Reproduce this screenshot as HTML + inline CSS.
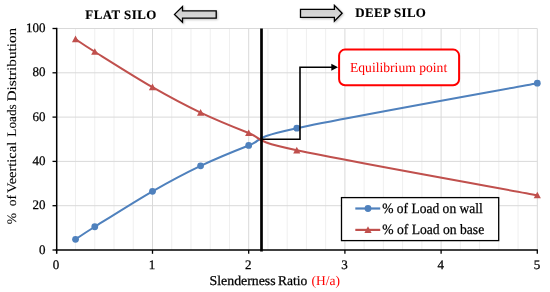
<!DOCTYPE html>
<html><head><meta charset="utf-8"><style>
html,body{margin:0;padding:0;background:#fff;}
svg{display:block;}
.t{font-family:"Liberation Serif","Times New Roman",serif;font-size:13.4px;fill:#000;text-rendering:geometricPrecision;stroke:#000;stroke-width:0.25px;}
</style></head><body>
<svg width="550" height="292" viewBox="0 0 550 292">
<rect width="550" height="292" fill="#fff"/>
<line x1="75.54" y1="28.5" x2="75.54" y2="250" stroke="#efefef" stroke-width="1"/>
<line x1="94.78" y1="28.5" x2="94.78" y2="250" stroke="#efefef" stroke-width="1"/>
<line x1="114.02" y1="28.5" x2="114.02" y2="250" stroke="#efefef" stroke-width="1"/>
<line x1="133.26" y1="28.5" x2="133.26" y2="250" stroke="#efefef" stroke-width="1"/>
<line x1="171.74" y1="28.5" x2="171.74" y2="250" stroke="#efefef" stroke-width="1"/>
<line x1="190.98" y1="28.5" x2="190.98" y2="250" stroke="#efefef" stroke-width="1"/>
<line x1="210.22" y1="28.5" x2="210.22" y2="250" stroke="#efefef" stroke-width="1"/>
<line x1="229.46" y1="28.5" x2="229.46" y2="250" stroke="#efefef" stroke-width="1"/>
<line x1="267.94" y1="28.5" x2="267.94" y2="250" stroke="#efefef" stroke-width="1"/>
<line x1="287.18" y1="28.5" x2="287.18" y2="250" stroke="#efefef" stroke-width="1"/>
<line x1="306.42" y1="28.5" x2="306.42" y2="250" stroke="#efefef" stroke-width="1"/>
<line x1="325.66" y1="28.5" x2="325.66" y2="250" stroke="#efefef" stroke-width="1"/>
<line x1="364.14" y1="28.5" x2="364.14" y2="250" stroke="#efefef" stroke-width="1"/>
<line x1="383.38" y1="28.5" x2="383.38" y2="250" stroke="#efefef" stroke-width="1"/>
<line x1="402.62" y1="28.5" x2="402.62" y2="250" stroke="#efefef" stroke-width="1"/>
<line x1="421.86" y1="28.5" x2="421.86" y2="250" stroke="#efefef" stroke-width="1"/>
<line x1="460.34" y1="28.5" x2="460.34" y2="250" stroke="#efefef" stroke-width="1"/>
<line x1="479.58" y1="28.5" x2="479.58" y2="250" stroke="#efefef" stroke-width="1"/>
<line x1="498.82" y1="28.5" x2="498.82" y2="250" stroke="#efefef" stroke-width="1"/>
<line x1="518.06" y1="28.5" x2="518.06" y2="250" stroke="#efefef" stroke-width="1"/>
<line x1="152.50" y1="28.5" x2="152.50" y2="250" stroke="#d9d9d9" stroke-width="1"/>
<line x1="248.70" y1="28.5" x2="248.70" y2="250" stroke="#d9d9d9" stroke-width="1"/>
<line x1="344.90" y1="28.5" x2="344.90" y2="250" stroke="#d9d9d9" stroke-width="1"/>
<line x1="441.10" y1="28.5" x2="441.10" y2="250" stroke="#d9d9d9" stroke-width="1"/>
<line x1="537.30" y1="28.5" x2="537.30" y2="250" stroke="#d9d9d9" stroke-width="1"/>
<line x1="57" y1="205.70" x2="537.30" y2="205.70" stroke="#d9d9d9" stroke-width="1"/>
<line x1="57" y1="161.40" x2="537.30" y2="161.40" stroke="#d9d9d9" stroke-width="1"/>
<line x1="57" y1="117.10" x2="537.30" y2="117.10" stroke="#d9d9d9" stroke-width="1"/>
<line x1="57" y1="72.80" x2="537.30" y2="72.80" stroke="#d9d9d9" stroke-width="1"/>
<line x1="57" y1="28.50" x2="537.30" y2="28.50" stroke="#d9d9d9" stroke-width="1"/>
<line x1="56.70" y1="27.8" x2="56.70" y2="253.8" stroke="#000" stroke-width="1.5"/>
<line x1="55.55" y1="250.0" x2="537.90" y2="250.0" stroke="#000" stroke-width="1.5"/>
<line x1="52.5" y1="250.00" x2="56.70" y2="250.00" stroke="#000" stroke-width="1.3"/>
<line x1="52.5" y1="205.70" x2="56.70" y2="205.70" stroke="#000" stroke-width="1.3"/>
<line x1="52.5" y1="161.40" x2="56.70" y2="161.40" stroke="#000" stroke-width="1.3"/>
<line x1="52.5" y1="117.10" x2="56.70" y2="117.10" stroke="#000" stroke-width="1.3"/>
<line x1="52.5" y1="72.80" x2="56.70" y2="72.80" stroke="#000" stroke-width="1.3"/>
<line x1="52.5" y1="28.50" x2="56.70" y2="28.50" stroke="#000" stroke-width="1.3"/>
<line x1="152.50" y1="250.0" x2="152.50" y2="253.8" stroke="#000" stroke-width="1.3"/>
<line x1="248.70" y1="250.0" x2="248.70" y2="253.8" stroke="#000" stroke-width="1.3"/>
<line x1="344.90" y1="250.0" x2="344.90" y2="253.8" stroke="#000" stroke-width="1.3"/>
<line x1="441.10" y1="250.0" x2="441.10" y2="253.8" stroke="#000" stroke-width="1.3"/>
<line x1="537.30" y1="250.0" x2="537.30" y2="253.8" stroke="#000" stroke-width="1.3"/>
<text transform="translate(45.4,253.50) scale(1.0,1)" text-anchor="end" class="t" style="font-size:13.0px">0</text>
<text transform="translate(45.4,209.20) scale(1.0,1)" text-anchor="end" class="t" style="font-size:13.0px">20</text>
<text transform="translate(45.4,164.90) scale(1.0,1)" text-anchor="end" class="t" style="font-size:13.0px">40</text>
<text transform="translate(45.4,120.60) scale(1.0,1)" text-anchor="end" class="t" style="font-size:13.0px">60</text>
<text transform="translate(45.4,76.30) scale(1.0,1)" text-anchor="end" class="t" style="font-size:13.0px">80</text>
<text transform="translate(45.4,32.00) scale(1.0,1)" text-anchor="end" class="t" style="font-size:13.0px">100</text>
<text transform="translate(55.90,268.9) scale(1.0,1)" text-anchor="middle" class="t" style="font-size:13.0px">0</text>
<text transform="translate(152.10,268.9) scale(1.0,1)" text-anchor="middle" class="t" style="font-size:13.0px">1</text>
<text transform="translate(248.30,268.9) scale(1.0,1)" text-anchor="middle" class="t" style="font-size:13.0px">2</text>
<text transform="translate(344.50,268.9) scale(1.0,1)" text-anchor="middle" class="t" style="font-size:13.0px">3</text>
<text transform="translate(440.70,268.9) scale(1.0,1)" text-anchor="middle" class="t" style="font-size:13.0px">4</text>
<text transform="translate(536.90,268.9) scale(1.0,1)" text-anchor="middle" class="t" style="font-size:13.0px">5</text>
<path d="M75.54,239.37 C78.75,237.26 81.95,234.75 94.78,226.74 C107.61,218.73 134.86,201.45 152.50,191.30 C170.14,181.15 184.57,173.47 200.60,165.83 C216.63,158.19 232.67,151.73 248.70,145.45 C264.73,139.18 248.70,138.55 296.80,128.18 C344.90,117.80 497.22,90.70 537.30,83.21" fill="none" stroke="#4f81bd" stroke-width="2.0" stroke-linecap="round"/>
<path d="M75.54,39.13 C78.75,41.24 81.95,43.75 94.78,51.76 C107.61,59.77 134.86,77.05 152.50,87.20 C170.14,97.35 184.57,105.03 200.60,112.67 C216.63,120.31 232.67,126.77 248.70,133.05 C264.73,139.32 248.70,139.95 296.80,150.32 C344.90,160.70 497.22,187.80 537.30,195.29" fill="none" stroke="#c0504d" stroke-width="2.0" stroke-linecap="round"/>
<circle cx="75.54" cy="239.37" r="3.4" fill="#4f81bd"/>
<circle cx="94.78" cy="226.74" r="3.4" fill="#4f81bd"/>
<circle cx="152.50" cy="191.30" r="3.4" fill="#4f81bd"/>
<circle cx="200.60" cy="165.83" r="3.4" fill="#4f81bd"/>
<circle cx="248.70" cy="145.45" r="3.4" fill="#4f81bd"/>
<circle cx="296.80" cy="128.18" r="3.4" fill="#4f81bd"/>
<circle cx="537.30" cy="83.21" r="3.4" fill="#4f81bd"/>
<path d="M75.54,35.53 L79.14,42.19 L71.94,42.19Z" fill="#c0504d"/>
<path d="M94.78,48.16 L98.38,54.82 L91.18,54.82Z" fill="#c0504d"/>
<path d="M152.50,83.60 L156.10,90.26 L148.90,90.26Z" fill="#c0504d"/>
<path d="M200.60,109.07 L204.20,115.73 L197.00,115.73Z" fill="#c0504d"/>
<path d="M248.70,129.45 L252.30,136.11 L245.10,136.11Z" fill="#c0504d"/>
<path d="M296.80,146.72 L300.40,153.38 L293.20,153.38Z" fill="#c0504d"/>
<path d="M537.30,191.69 L540.90,198.35 L533.70,198.35Z" fill="#c0504d"/>
<line x1="261.5" y1="28.5" x2="261.5" y2="251.5" stroke="#000" stroke-width="2.7"/>
<polyline points="262,139.2 300,139.2 300,67.2 332,67.2" fill="none" stroke="#000" stroke-width="1.6"/>
<path d="M331.3,63.8 L338,67.2 L331.3,70.8Z" fill="#000"/>
<rect x="339.1" y="49.6" width="120.0" height="35.7" rx="6" fill="#fff" stroke="#ff0000" stroke-width="2"/>
<text x="350.0" y="72" class="t" style="font-size:13.8px;fill:#ff0000;stroke:none" textLength="97.2" lengthAdjust="spacingAndGlyphs">Equilibrium point</text>
<rect x="341.5" y="197.6" width="157.2" height="43.0" fill="#fff" stroke="#000" stroke-width="1.3"/>
<line x1="355.3" y1="208.5" x2="380.2" y2="208.5" stroke="#4f81bd" stroke-width="2.2"/>
<circle cx="368" cy="208.5" r="3.4" fill="#4f81bd"/>
<line x1="355.3" y1="229.9" x2="380.2" y2="229.9" stroke="#c0504d" stroke-width="2.2"/>
<path d="M368.00,226.30 L371.60,232.96 L364.40,232.96Z" fill="#c0504d"/>
<text x="382.2" y="213" class="t" style="font-size:14.3px" textLength="100.6" lengthAdjust="spacingAndGlyphs">% of Load on wall</text>
<text x="382.2" y="234" class="t" style="font-size:14.3px" textLength="102.0" lengthAdjust="spacingAndGlyphs">% of Load on base</text>
<text y="284.5" class="t" style="font-size:13.5px"><tspan x="209.6" textLength="66.0" lengthAdjust="spacingAndGlyphs">Slenderness</tspan> <tspan x="278.0">Ratio</tspan> <tspan x="311.6" style="fill:#ff0000;stroke:none">(H/a)</tspan></text>
<text transform="translate(16.0,224.0) rotate(-90)" y="0" class="t" style="font-size:13.0px;stroke-width:0.1px"><tspan x="-0.3" textLength="11.3" lengthAdjust="spacingAndGlyphs">%</tspan> <tspan x="17.8" textLength="11.3" lengthAdjust="spacingAndGlyphs">of</tspan> <tspan x="30.9" textLength="51.3" lengthAdjust="spacingAndGlyphs">Veertical</tspan> <tspan x="87.3" textLength="32.4" lengthAdjust="spacingAndGlyphs">Loads</tspan> <tspan x="122.6" textLength="73.6" lengthAdjust="spacingAndGlyphs">Distribution</tspan></text>
<text transform="translate(85.3,19) scale(1,1.0)" class="t" style="font-weight:bold;font-size:12.9px;stroke-width:0.15px" textLength="71.0" lengthAdjust="spacing">FLAT SILO</text>
<text x="355.3" y="17" class="t" style="font-weight:bold;font-size:12.9px;stroke-width:0.15px" textLength="70.6" lengthAdjust="spacing">DEEP SILO</text>
<defs><linearGradient id="g" x1="0" y1="0" x2="0" y2="1"><stop offset="0" stop-color="#cbcbcb"/><stop offset="0.6" stop-color="#d6d6d6"/><stop offset="1" stop-color="#e8e8e8"/></linearGradient>
<filter id="sh" x="-20%" y="-20%" width="150%" height="160%"><feGaussianBlur in="SourceAlpha" stdDeviation="0.8"/><feOffset dx="0.8" dy="1.2"/><feComponentTransfer><feFuncA type="linear" slope="0.25"/></feComponentTransfer><feMerge><feMergeNode/><feMergeNode in="SourceGraphic"/></feMerge></filter></defs>
<path filter="url(#sh)" d="M174.5,14.4 L182.5,6.6 L182.5,10.8 L216.2,10.8 L216.2,18.2 L182.5,18.2 L182.5,22.1 Z" fill="url(#g)" stroke="#000" stroke-width="1.3" stroke-linejoin="miter"/>
<path filter="url(#sh)" d="M342.1,13.2 L334.4,5.4 L334.4,9.4 L300.5,9.4 L300.5,17.3 L334.4,17.3 L334.4,21.1 Z" fill="url(#g)" stroke="#000" stroke-width="1.3" stroke-linejoin="miter"/>
</svg>
</body></html>
